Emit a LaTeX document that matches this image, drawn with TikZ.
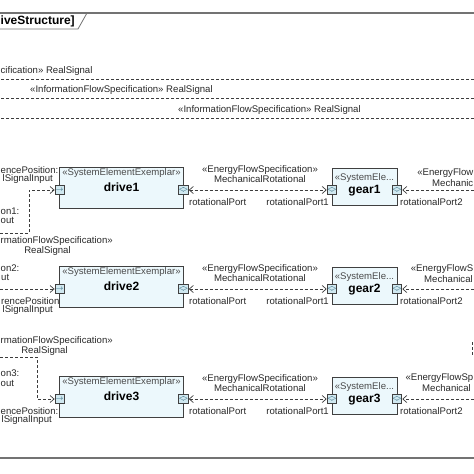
\documentclass[tikz,border=0pt]{standalone}
\usepackage{fontspec}
\setmainfont{Liberation Sans}
\usetikzlibrary{arrows.meta,positioning}
\definecolor{ink}{RGB}{40,40,40}
\definecolor{stereoink}{RGB}{75,75,75}
\definecolor{boxfill}{RGB}{236,248,252}
\definecolor{boxedge}{RGB}{64,64,64}
\definecolor{portfill}{RGB}{208,232,240}
\definecolor{portglyph}{RGB}{30,90,110}
\definecolor{wire}{RGB}{60,60,60}
\definecolor{framegray}{RGB}{115,115,115}
\newcommand{\inglyph}{$\rightarrow$}
\newcommand{\ioglyph}{$<\!\!>$}

\begin{document}
\begin{tikzpicture}[
      x=1pt,y=-1pt,
      part/.style={draw=boxedge,line width=1pt,fill=boxfill,inner sep=0pt},
      port/.style={draw=boxedge,line width=0.8pt,fill=portfill,minimum size=9pt,inner sep=0pt,font=\fontsize{7}{7}\selectfont,text=portglyph},
      stereo/.style={font=\fontsize{9.6}{10.5}\selectfont,text=stereoink,inner sep=0pt},
      pname/.style={font=\fontsize{12}{14}\selectfont\bfseries,text=black,inner sep=0pt},
      lbl/.style={font=\fontsize{9.6}{10.5}\selectfont,text=ink,inner sep=0pt},
      flow/.style={draw=wire,line width=0.7pt,dash pattern=on 3pt off 2pt},
      inflow/.style={flow,-{Straight Barb[length=4pt,width=7pt]}},
      twoway/.style={flow,{Straight Barb[length=4pt,width=7pt]}-{Straight Barb[length=4pt,width=7pt]}},
      frameline/.style={draw=framegray,line width=1.2pt}]
    \useasboundingbox (0,0) rectangle (474,474);
    \clip (0,0) rectangle (474,474);
    % diagram frame
    \draw[frameline] (0,13) -- (474,13);
    \draw[frameline] (0,458) -- (474,458);
    \draw[draw=framegray,line width=0.8pt] (0,29) -- (78,29) -- (87,13);
    \node[pname,anchor=west] (title) at (0.5,21.5) {iveStructure]};
    % long flows from the right
    \coordinate (t1w) at (0,79);   \coordinate (t1e) at (474,79);
    \coordinate (t2w) at (0,98);   \coordinate (t2e) at (474,98);
    \coordinate (t3w) at (0,118);  \coordinate (t3e) at (474,118);
    \draw[flow] (t1e) -- (t1w);
    \draw[flow] (t2e) -- (t2w);
    \draw[flow] (t3e) -- (t3w);
    \node[lbl,anchor=west] (s1) at (0.5,71) {cification» RealSignal};
    \node[lbl,anchor=west] (s2) at (30,90) {«InformationFlowSpecification» RealSignal};
    \node[lbl,anchor=west] (s3) at (178,110) {«InformationFlowSpecification» RealSignal};
    % drives
    \node[part,minimum width=124pt,minimum height=41pt] (d1) at (121.5,187.5) {};
    \node[part,minimum width=124pt,minimum height=41pt] (d2) at (121.5,286.5) {};
    \node[part,minimum width=124pt,minimum height=41pt] (d3) at (121.5,396.5) {};
    \node[stereo] (d1s) at (121.5,173) {«SystemElementExemplar»};
    \node[stereo] (d2s) at (121.5,272) {«SystemElementExemplar»};
    \node[stereo] (d3s) at (121.5,382) {«SystemElementExemplar»};
    \node[pname] (d1n) at (121.5,187) {drive1};
    \node[pname] (d2n) at (121.5,286) {drive2};
    \node[pname] (d3n) at (121.5,396) {drive3};
    % gears
    \node[part,minimum width=65pt,minimum height=37pt] (g1) at (364.5,186.5) {};
    \node[part,minimum width=65pt,minimum height=37pt] (g2) at (364.5,285.5) {};
    \node[part,minimum width=65pt,minimum height=37pt] (g3) at (364.5,395.5) {};
    \node[stereo] (g1s) at (364.5,178) {«SystemEle...};
    \node[stereo] (g2s) at (364.5,277) {«SystemEle...};
    \node[stereo] (g3s) at (364.5,387) {«SystemEle...};
    \node[pname] (g1n) at (364.5,191) {gear1};
    \node[pname] (g2n) at (364.5,290) {gear2};
    \node[pname] (g3n) at (364.5,400) {gear3};
    % ports
    \node[port] (d1l) at (59.5,190) {\inglyph};
    \node[port] (d2l) at (59.5,289) {\inglyph};
    \node[port] (d3l) at (59.5,399) {\inglyph};
    \node[port] (d1r) at (183.5,190) {\ioglyph};
    \node[port] (d2r) at (183.5,289) {\ioglyph};
    \node[port] (d3r) at (183.5,399) {\ioglyph};
    \node[port] (g1l) at (332,190) {\ioglyph};
    \node[port] (g2l) at (332,289) {\ioglyph};
    \node[port] (g3l) at (332,399) {\ioglyph};
    \node[port] (g1r) at (397,190) {\ioglyph};
    \node[port] (g2r) at (397,289) {\ioglyph};
    \node[port] (g3r) at (397,399) {\ioglyph};
    % reference position signals
    \coordinate (w1) at (0,233);
    \coordinate (w2) at (0,289);
    \coordinate (w3) at (0,357);
    \draw[inflow] (w1) -- ++(29,0) |- (d1l);
    \draw[inflow] (w2) -- (d2l);
    \draw[inflow] (w3) -- ++(37,0) |- (d3l);
    \node[lbl,anchor=west] (d1la) at (0.5,170) {encePosition:};
    \node[lbl,anchor=east] (d1lb) at (53,179.5) {lSignalInput};
    \node[lbl,anchor=west] (w1a) at (0.5,211) {on1:};
    \node[lbl,anchor=west] (w1b) at (0.5,220.5) {out};
    \node[lbl,anchor=west] (w1c) at (0.5,241) {rmationFlowSpecification»};
    \node[lbl] (w1d) at (47.5,251.5) {RealSignal};
    \node[lbl,anchor=west] (w2a) at (0.5,268) {on2:};
    \node[lbl,anchor=west] (w2b) at (1,277) {ut};
    \node[lbl,anchor=west] (d2la) at (1,301) {rencePosition};
    \node[lbl,anchor=east] (d2lb) at (53,310) {lSignalInput};
    \node[lbl,anchor=west] (w2c) at (0.5,341) {rmationFlowSpecification»};
    \node[lbl] (w2d) at (44.5,351.5) {RealSignal};
    \node[lbl,anchor=west] (w3a) at (0.5,373) {on3:};
    \node[lbl,anchor=west] (w3b) at (0.5,383) {out};
    \node[lbl,anchor=west] (d3la) at (0.5,411) {encePosition:};
    \node[lbl,anchor=east] (d3lb) at (52,420) {lSignalInput};
    % mechanical flows drive -- gear
    \draw[twoway] (d1r) -- (g1l);
    \draw[twoway] (d2r) -- (g2l);
    \draw[twoway] (d3r) -- (g3l);
    \node[lbl,align=center] (m1) at (260,174) {«EnergyFlowSpecification»\\MechanicalRotational};
    \node[lbl,align=center] (m2) at (260,273) {«EnergyFlowSpecification»\\MechanicalRotational};
    \node[lbl,align=center] (m3) at (260,383) {«EnergyFlowSpecification»\\MechanicalRotational};
    \node[lbl,anchor=west] (d1p) at (189,202) {rotationalPort};
    \node[lbl,anchor=west] (d2p) at (189,301) {rotationalPort};
    \node[lbl,anchor=west] (d3p) at (189,411) {rotationalPort};
    \node[lbl,anchor=east] (g1p) at (329,202) {rotationalPort1};
    \node[lbl,anchor=east] (g2p) at (329,301) {rotationalPort1};
    \node[lbl,anchor=east] (g3p) at (329,411) {rotationalPort1};
    \node[lbl,anchor=west] (g1q) at (400,202.5) {rotationalPort2};
    \node[lbl,anchor=west] (g2q) at (400,301) {rotationalPort2};
    \node[lbl,anchor=west] (g3q) at (400,411) {rotationalPort2};
    % flows to the right
    \coordinate (e1) at (474,190);
    \coordinate (e2) at (474,289);
    \coordinate (e3) at (474,399);
    \draw[inflow] (e1) -- (g1r);
    \draw[inflow] (e2) -- (g2r);
    \draw[inflow] (e3) -- (g3r);
    \node[lbl,anchor=east] (e1a) at (473.5,173) {«EnergyFlow};
    \node[lbl,anchor=east] (e1b) at (473.5,183) {Mechanic};
    \node[lbl,anchor=east] (e2a) at (473.5,269) {«EnergyFlowS};
    \node[lbl,anchor=west] (e2b) at (424,279) {Mechanical};
    \node[lbl,anchor=east] (e3a) at (473.5,378) {«EnergyFlowSp};
    \node[lbl,anchor=west] (e3b) at (422,388) {Mechanical};
    \coordinate (n1) at (472,342);
    \coordinate (n2) at (472,355);
    \draw[flow] (n1) -- (n2);
  \end{tikzpicture}
\end{document}
